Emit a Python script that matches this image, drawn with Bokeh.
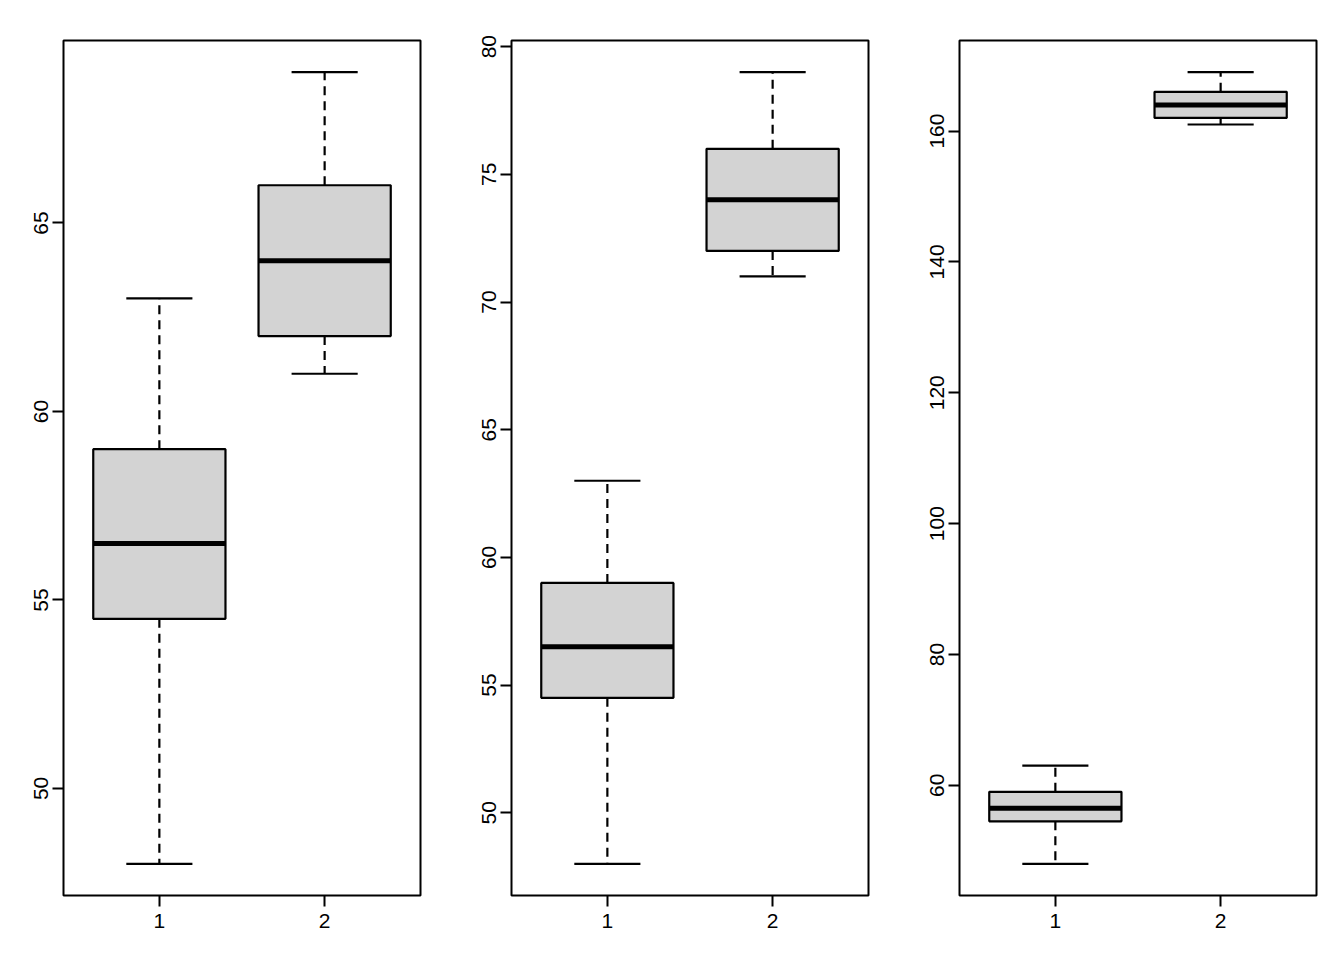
from bokeh.plotting import figure
from bokeh.layouts import row
from bokeh.models import Range1d, FixedTicker, ColumnDataSource
from bokeh.transform import dodge
from bokeh.embed import file_html
from bokeh.resources import INLINE

# ---- data ----
x_pos = [1, 2]
x_labels = ["1", "2"]

p1_low = [48, 61]
p1_q1 = [54.5, 62]
p1_med = [56.5, 64]
p1_q3 = [59, 66]
p1_high = [63, 69]
p1_ticks = [50, 55, 60, 65]

p2_low = [48, 71]
p2_q1 = [54.5, 72]
p2_med = [56.5, 74]
p2_q3 = [59, 76]
p2_high = [63, 79]
p2_ticks = [50, 55, 60, 65, 70, 75, 80]

p3_low = [48, 161]
p3_q1 = [54.5, 162]
p3_med = [56.5, 164]
p3_q3 = [59, 166]
p3_high = [63, 169]
p3_ticks = [60, 80, 100, 120, 140, 160]

FONT = "Liberation Sans"
FS = "21px"
BOX_W = 0.8
CAP_W = 0.4


def make_panel(low, q1, med, q3, high, ticks, width, left, right):
    lo, hi = min(low), max(high)
    pad = 0.04 * (hi - lo)
    xlo, xhi = 0.5, 2.5
    xpad = 0.04 * (xhi - xlo)
    p = figure(width=width, height=952, output_backend="svg", toolbar_location=None,
               x_range=Range1d(xlo - xpad, xhi + xpad),
               y_range=Range1d(lo - pad, hi + pad),
               min_border_left=left, min_border_right=right,
               min_border_top=40, min_border_bottom=57)
    p.grid.visible = False
    p.background_fill_color = "white"
    p.border_fill_color = "white"
    p.outline_line_color = "black"
    p.outline_line_width = 2
    p.outline_line_alpha = 1.0

    src = ColumnDataSource(dict(x=x_pos, low=low, q1=q1, med=med, q3=q3, high=high))

    # whiskers (dashed)
    p.segment(x0="x", x1="x", y0="q3", y1="high", source=src,
              line_color="black", line_width=2.2, line_dash="9 6")
    p.segment(x0="x", x1="x", y0="q1", y1="low", source=src,
              line_color="black", line_width=2.2, line_dash="9 6")
    # caps
    p.segment(x0=dodge("x", -CAP_W / 2, range=p.x_range), x1=dodge("x", CAP_W / 2, range=p.x_range),
              y0="high", y1="high", source=src, line_color="black", line_width=2.2)
    p.segment(x0=dodge("x", -CAP_W / 2, range=p.x_range), x1=dodge("x", CAP_W / 2, range=p.x_range),
              y0="low", y1="low", source=src, line_color="black", line_width=2.2)
    # boxes
    p.vbar(x="x", width=BOX_W, bottom="q1", top="q3", source=src,
           fill_color="#d3d3d3", line_color="black", line_width=2.2)
    # medians
    p.segment(x0=dodge("x", -BOX_W / 2, range=p.x_range), x1=dodge("x", BOX_W / 2, range=p.x_range),
              y0="med", y1="med", source=src, line_color="black", line_width=5)

    for ax in (p.xaxis[0], p.yaxis[0]):
        ax.axis_line_color = None
        ax.major_tick_line_color = "black"
        ax.major_tick_line_width = 2
        ax.major_tick_out = 11
        ax.major_tick_in = 0
        ax.minor_tick_line_color = None
        ax.major_label_text_font = FONT
        ax.major_label_text_font_size = FS
        ax.major_label_text_color = "black"

    p.xaxis.ticker = FixedTicker(ticks=x_pos)
    p.xaxis.major_label_overrides = {x: lab for x, lab in zip(x_pos, x_labels)}
    p.xaxis.major_label_standoff = 7
    p.yaxis.ticker = FixedTicker(ticks=ticks)
    p.yaxis.major_label_orientation = "vertical"
    p.yaxis.major_label_standoff = 4
    return p


f1 = make_panel(p1_low, p1_q1, p1_med, p1_q3, p1_high, p1_ticks, 456, 63, 36)
f2 = make_panel(p2_low, p2_q1, p2_med, p2_q3, p2_high, p2_ticks, 448, 55, 36)
f3 = make_panel(p3_low, p3_q1, p3_med, p3_q3, p3_high, p3_ticks, 440, 55, 28)

layout = row(f1, f2, f3)
open("out.html", "w").write(file_html(layout, INLINE))
